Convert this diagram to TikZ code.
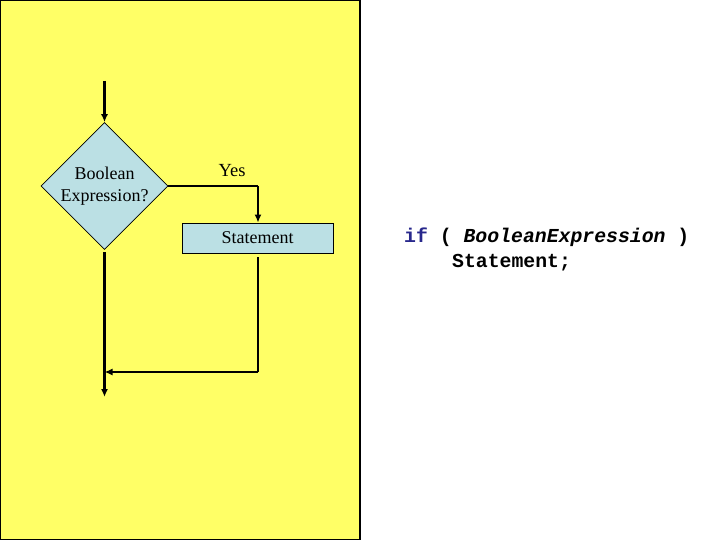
\documentclass[tikz,border=0pt]{standalone}
\usepackage{fontspec}
\setmainfont{Liberation Serif}
\setmonofont{Liberation Mono}
\usetikzlibrary{shapes.geometric,arrows.meta,positioning}
\definecolor{panelcol}{RGB}{255,255,102}
\definecolor{boxcol}{RGB}{187,224,228}
\definecolor{kwcol}{RGB}{40,40,140}
\tikzset{
  flow/.style={line width=2.2pt,-{Latex[length=8pt,width=7pt]}},
  plain/.style={line width=2.2pt},
  decide/.style={draw,diamond,fill=boxcol,line width=0.6pt,minimum width=127pt,minimum height=127pt,inner sep=0pt,align=center,font=\fontsize{18}{22}\selectfont},
  stmtbox/.style={draw,rectangle,fill=boxcol,line width=0.8pt,minimum width=151pt,minimum height=30pt,inner sep=0pt,font=\fontsize{18}{20}\selectfont},
  lab/.style={font=\fontsize{18.5}{20}\selectfont},
  code/.style={anchor=base west,inner sep=0pt,font=\fontsize{19.8}{24}\selectfont\ttfamily\bfseries},
}

\begin{document}
\begin{tikzpicture}[x=1pt,y=-1pt]
  \useasboundingbox (0,0) rectangle (720,540);
  \filldraw[fill=panelcol,draw=black,line width=1.5pt] (0.5,0.5) rectangle (360,540);
  % flowchart
  \node[decide] (cond) at (104.5,186) {Boolean\\Expression?};
  \node[stmtbox] (stmt) at (257.5,238) {Statement};
  \coordinate (in) at (104.5,81);
  \coordinate (turn) at (258,186);
  \coordinate (gap) at (258,257);
  \coordinate (back) at (258,372);
  \coordinate (join) at (104.5,372);
  \coordinate (out) at (104.5,397);
  \coordinate (fork) at (104.5,252);
  \draw[flow] (in) -- (cond.north);
  \draw[plain] (cond.east) -- (turn);
  \draw[flow] (turn) -- (stmt.north -| turn);
  \draw[plain] (gap) -- (back);
  \draw[flow] (back) -- (join);
  \draw[flow] (fork) -- (out);
  \node[lab] (yes) at (232,171) {Yes};
  % code
  \node[code] (line1) at (404,243) {\textcolor{kwcol}{if} ( \textit{BooleanExpression} )};
  \node[code] (line2) at (452,267) {Statement;};
\end{tikzpicture}
\end{document}
